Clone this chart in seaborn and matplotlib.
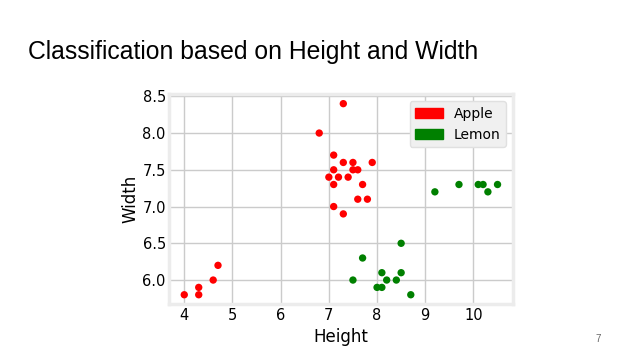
import matplotlib
matplotlib.use("Agg")
import matplotlib.pyplot as plt
import matplotlib.patches as mpatches
import seaborn as sns
import pandas as pd

apple_height = [7.3, 6.8, 7.1, 7.3, 7.5, 7.9, 7.1, 7.5, 7.6, 7.0, 7.2, 7.4, 7.1, 7.7, 7.6, 7.8, 7.1, 7.3,
                4.0, 4.3, 4.3, 4.6, 4.7]
apple_width = [8.4, 8.0, 7.7, 7.6, 7.6, 7.6, 7.5, 7.5, 7.5, 7.4, 7.4, 7.4, 7.3, 7.3, 7.1, 7.1, 7.0, 6.9,
               5.8, 5.9, 5.8, 6.0, 6.2]
lemon_height = [9.2, 9.7, 10.1, 10.2, 10.3, 10.5, 8.5, 7.7, 8.1, 8.5, 7.5, 8.2, 8.4, 8.0, 8.1, 8.7]
lemon_width = [7.2, 7.3, 7.3, 7.3, 7.2, 7.3, 6.5, 6.3, 6.1, 6.1, 6.0, 6.0, 6.0, 5.9, 5.9, 5.8]
classes = ["Apple", "Lemon"]
colors = ["red", "green"]

df = pd.DataFrame({
    "Height": apple_height + lemon_height,
    "Width": apple_width + lemon_width,
    "Fruit": [classes[0]] * len(apple_height) + [classes[1]] * len(lemon_height),
})

sns.set_style("whitegrid")
plt.rcParams["font.family"] = ["DejaVu Sans"]
plt.rcParams["text.color"] = "black"
plt.rcParams["axes.labelcolor"] = "black"

fig = plt.figure(figsize=(6.38, 3.59), dpi=100)
fig.patch.set_facecolor("white")
ax = fig.add_axes([168.6 / 638, 1 - 304.3 / 359, 344.6 / 638, 210.2 / 359])
sns.scatterplot(data=df, x="Height", y="Width", hue="Fruit", palette=dict(zip(classes, colors)),
                s=28, edgecolor="none", ax=ax, legend=False)
ax.set_facecolor("white")
ax.grid(True, color="#cbcbcb", linewidth=1.0)
for sp in ax.spines.values():
    sp.set_color("#ececec")
    sp.set_linewidth(2.5)
ax.tick_params(axis="both", labelsize=10.5, length=0, pad=2, colors="black")
ax.tick_params(axis="x", pad=3)
ax.set_xticks([4, 5, 6, 7, 8, 9, 10])
ax.set_yticks([6.0, 6.5, 7.0, 7.5, 8.0, 8.5])
ax.set_xlabel("Height", fontsize=12, labelpad=3)
ax.set_ylabel("Width", fontsize=12, labelpad=2)

handles = [mpatches.Patch(color=c, label=l) for c, l in zip(colors, classes)]
leg = ax.legend(handles=handles, loc="upper right", fontsize=10, frameon=True, fancybox=True,
                facecolor="#f0f0f0", edgecolor="#e0e0e0", framealpha=1.0,
                handlelength=2.0, handleheight=0.7)

fig.text(28 / 638, 1 - 52 / 359, "Classification based on Height and Width",
         fontsize=17.8, family="Liberation Sans", va="center", ha="left", color="black")
fig.text(598 / 638, 1 - 339 / 359, "7", fontsize=7, color="#666666", va="center", ha="center",
         family="Liberation Sans")

fig.savefig("out.png", dpi=100, facecolor="white")
